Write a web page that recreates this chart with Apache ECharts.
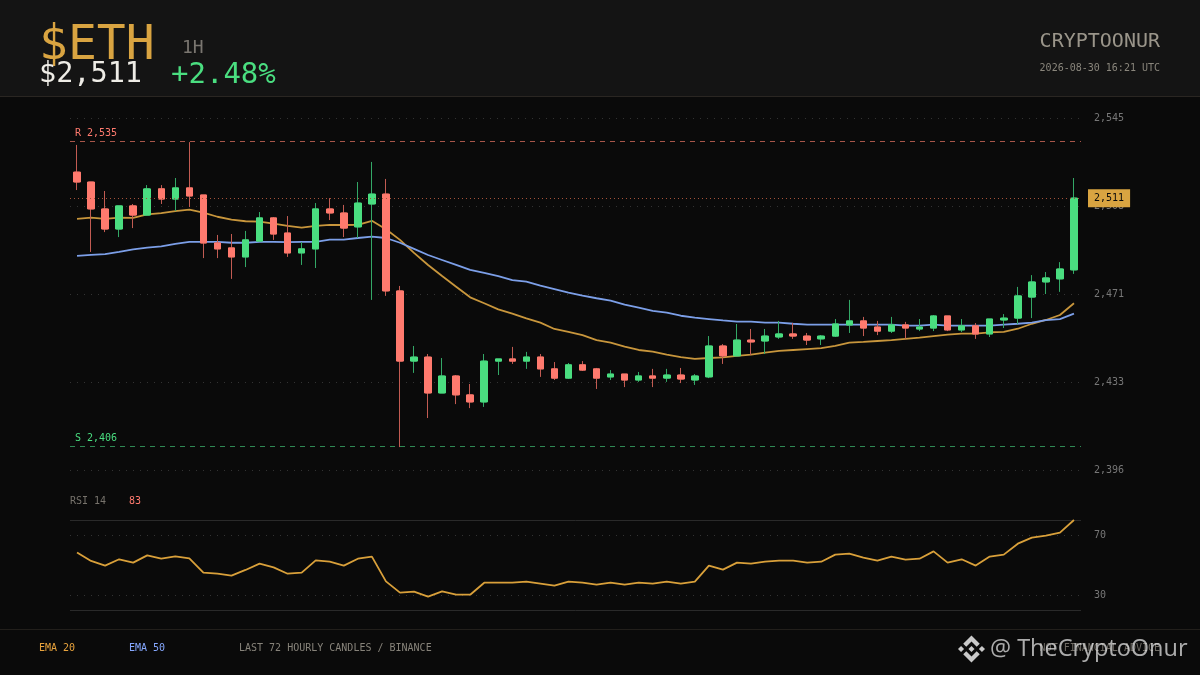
<!DOCTYPE html>
<html><head><meta charset="utf-8">
<style>html,body{margin:0;padding:0;background:#0a0a0a}#c{width:1200px;height:675px}</style>
<script src="https://cdn.jsdelivr.net/npm/echarts@6/dist/echarts.min.js"></script>
</head><body><div id="c"></div>
<script>
const opens=[2522.1,2517.9,2506.5,2498.0,2507.8,2503.9,2515.0,2510.7,2515.4,2512.4,2492.1,2490.0,2486.2,2492.9,2502.7,2496.3,2487.9,2489.6,2506.5,2504.8,2498.9,2508.6,2512.8,2471.8,2442.1,2443.8,2428.6,2435.8,2427.8,2424.8,2442.1,2443.0,2442.1,2443.8,2438.8,2434.9,2440.5,2438.8,2435.4,2436.6,2434.1,2435.8,2434.9,2436.2,2434.1,2435.4,2448.5,2444.3,2451.0,2450.6,2452.3,2453.6,2452.7,2451.5,2452.7,2457.4,2459.1,2456.5,2454.8,2457.4,2455.7,2456.1,2461.2,2455.3,2457.0,2453.6,2459.5,2460.3,2469.2,2475.6,2476.9,2480.7];
const closes=[2517.9,2506.5,2498.0,2507.8,2503.9,2515.0,2510.7,2515.4,2512.0,2492.1,2489.6,2486.2,2493.4,2502.7,2495.9,2487.9,2489.6,2506.5,2504.8,2498.4,2509.0,2512.8,2471.8,2442.1,2443.8,2428.6,2435.8,2427.8,2424.8,2442.1,2443.0,2442.1,2443.8,2438.8,2434.9,2440.5,2438.3,2434.9,2436.6,2434.1,2435.8,2434.9,2436.2,2434.5,2435.8,2448.5,2444.3,2451.0,2450.2,2452.7,2453.6,2452.7,2451.0,2452.7,2457.8,2459.1,2456.1,2454.8,2457.4,2456.1,2456.5,2461.2,2455.3,2457.0,2453.6,2459.9,2460.3,2469.7,2475.6,2477.3,2481.1,2511.1];
const lows=[2514.5,2488.3,2496.7,2494.6,2498.4,2503.9,2508.6,2505.6,2507.3,2485.7,2485.7,2476.9,2481.9,2492.9,2493.4,2486.2,2482.8,2481.5,2501.8,2494.6,2494.2,2468.0,2469.7,2405.7,2437.1,2418.0,2428.6,2423.9,2422.2,2422.7,2436.2,2440.9,2438.8,2435.4,2434.1,2434.5,2437.9,2430.3,2434.1,2431.1,2433.3,2431.1,2433.3,2432.8,2432.0,2434.9,2440.9,2444.3,2444.7,2445.1,2451.5,2451.5,2448.9,2448.9,2452.3,2454.0,2452.7,2453.1,2454.0,2451.5,2454.8,2454.8,2454.8,2454.4,2451.5,2452.3,2456.1,2457.8,2460.3,2470.5,2471.4,2479.0];
const highs=[2533.6,2517.9,2514.1,2507.8,2508.6,2516.6,2516.6,2519.6,2534.8,2512.4,2495.5,2495.9,2497.2,2505.2,2503.1,2503.5,2492.5,2509.0,2511.1,2508.2,2517.9,2526.4,2519.2,2473.9,2448.5,2445.1,2443.4,2436.2,2432.4,2445.1,2443.0,2448.1,2446.0,2445.1,2441.7,2441.3,2442.1,2439.2,2438.3,2436.6,2437.5,2438.8,2438.8,2439.2,2436.6,2452.7,2449.3,2457.8,2455.7,2455.7,2459.1,2458.2,2454.0,2453.1,2459.9,2468.0,2460.8,2459.1,2460.8,2458.7,2459.9,2461.6,2461.2,2459.9,2458.2,2459.9,2462.0,2473.5,2478.5,2479.8,2484.0,2519.6];
const ema20=[2502.3,2502.8,2502.3,2502.8,2502.7,2504.2,2504.7,2505.6,2506.2,2504.9,2503.2,2502.0,2501.3,2501.1,2500.3,2499.3,2498.6,2499.3,2499.8,2499.7,2499.8,2501.5,2497.9,2493.4,2487.9,2482.8,2478.1,2473.6,2469.1,2466.6,2464.0,2462.2,2460.2,2458.4,2455.7,2454.5,2453.1,2451.0,2449.9,2448.2,2446.8,2446.1,2444.8,2443.8,2443.0,2443.4,2443.7,2444.3,2444.8,2445.7,2446.4,2446.8,2447.2,2447.6,2448.5,2449.9,2450.2,2450.6,2451.0,2451.5,2452.0,2452.7,2453.3,2453.7,2453.7,2454.3,2454.5,2455.8,2457.9,2459.5,2461.6,2466.6];
const ema50=[2486.6,2487.1,2487.4,2488.3,2489.4,2490.1,2490.7,2491.7,2492.6,2492.6,2492.6,2492.2,2492.2,2492.6,2492.6,2492.5,2492.6,2492.6,2493.5,2493.5,2494.2,2494.8,2494.2,2492.2,2489.6,2487.0,2484.9,2482.8,2480.7,2479.4,2478.1,2476.4,2475.7,2474.0,2472.6,2471.1,2469.8,2468.7,2467.7,2466.0,2464.7,2463.4,2462.6,2461.3,2460.5,2459.9,2459.3,2458.8,2458.8,2458.4,2458.4,2457.9,2457.5,2457.5,2457.5,2457.5,2457.5,2457.5,2457.5,2457.1,2457.1,2457.5,2457.1,2457.1,2457.1,2457.1,2457.5,2457.9,2458.4,2459.4,2459.9,2462.2];
const rsi=[58.4,52.7,49.6,53.8,51.6,56.4,54.2,55.8,54.4,44.9,44.2,42.9,46.7,50.9,48.4,44.2,44.9,53.1,52.2,49.6,54.2,55.6,39.1,31.6,32.2,28.9,32.4,30.2,30.2,38.2,38.2,38.2,38.9,37.6,36.2,38.9,38.2,36.9,38.2,36.9,38.2,37.6,38.9,37.6,38.9,49.6,46.9,51.6,50.9,52.2,52.9,52.9,51.6,52.2,56.9,57.6,54.9,52.9,55.6,53.6,54.2,59.1,51.6,53.8,49.6,55.6,56.9,64.2,68.2,69.6,71.6,80];
const categories=opens.map((_,i)=>String(i));
const priceTicks=[2545,2507.75,2470.5,2433.25,2396];
const rsiTicks=[70,30];
const resistance=2535,support=2406,lastPrice=2511;

const MONO='"DejaVu Sans Mono",monospace';
const UP='#4ade80',DOWN='#ff7a6e',UPW='#33a866',DOWNW='#c25b52';
const fmt=v=>Math.round(v).toLocaleString('en-US');
const fullCandles=opens.map((o,i)=>[o,closes[i],lows[i],highs[i]]);
const bodyCandles=opens.map((o,i)=>[o,closes[i],Math.min(o,closes[i]),Math.max(o,closes[i])]);
const hDot={type:[1,6],color:'#333',width:1};

function txt(x,y,text,size,fill,align){
  return {type:'text',silent:true,z:50,x:x,y:y,style:{text:text,font:size+'px '+MONO,fill:fill,textAlign:align||'left',textVerticalAlign:'middle'}};
}
const logoFill='rgba(235,235,235,0.85)';
const logoShapes=[
  [[12,0],[19.34,7.34],[16.62,10.06],[12,5.42],[7.35,10.08],[4.63,7.36]],
  [[16.62,13.92],[19.34,16.64],[12,24],[4.63,16.63],[7.35,13.92],[12,18.58]],
  [[2.72,9.28],[5.41,12],[2.72,14.69],[0,12]],
  [[21.26,9.28],[24,12],[21.28,14.72],[18.57,12]],
  [[12,9.28],[14.7,12],[12,14.7],[9.27,12]]
];
const chart=echarts.init(document.getElementById('c'),null,{renderer:'canvas',width:1200,height:675});
chart.setOption({
  animation:false,
  backgroundColor:'#0a0a0a',
  grid:[{left:70,right:119,top:118,height:352},{left:70,right:119,top:520,height:90}],
  xAxis:[
    {type:'category',gridIndex:0,data:categories,show:false},
    {type:'category',gridIndex:1,data:categories,show:false}
  ],
  yAxis:[
    {type:'value',gridIndex:0,position:'right',min:2396,max:2545,scale:true,
      axisLine:{show:false},axisTick:{show:false},splitLine:{show:false},
      axisLabel:{customValues:priceTicks,formatter:fmt,color:'#777',fontFamily:MONO,fontSize:10,margin:13}},
    {type:'value',gridIndex:1,position:'right',min:20,max:80,
      axisLine:{show:false},axisTick:{show:false},splitLine:{show:false},
      axisLabel:{customValues:rsiTicks,color:'#777',fontFamily:MONO,fontSize:10,margin:13}}
  ],
  series:[
    {type:'candlestick',name:'wicks',xAxisIndex:0,yAxisIndex:0,data:fullCandles,barWidth:6,z:3,silent:true,
      itemStyle:{color:UPW,color0:DOWNW,borderColor:UPW,borderColor0:DOWNW,borderWidth:1},
      markLine:{silent:true,symbol:'none',z:1,animation:false,data:priceTicks.map(v=>({yAxis:v,lineStyle:hDot,label:{show:false}}))}},
    {type:'line',name:'EMA 20',xAxisIndex:0,yAxisIndex:0,data:ema20,showSymbol:false,z:2,silent:true,lineStyle:{color:'#c8963c',width:1.8}},
    {type:'line',name:'EMA 50',xAxisIndex:0,yAxisIndex:0,data:ema50,showSymbol:false,z:2,silent:true,lineStyle:{color:'#7c9fe8',width:1.8}},
    {type:'candlestick',name:'bodies',xAxisIndex:0,yAxisIndex:0,data:bodyCandles,barWidth:7,z:4,silent:true,
      itemStyle:{color:UP,color0:DOWN,borderColor:UP,borderColor0:DOWN,borderWidth:1},
      markLine:{silent:true,symbol:'none',z:5,animation:false,data:[
        {yAxis:resistance,lineStyle:{type:[5,5],color:'#a8564a',width:1},
         label:{position:'insideStartTop',formatter:'R '+fmt(resistance),color:DOWN,fontFamily:MONO,fontSize:10,distance:[5,3]}},
        {yAxis:support,lineStyle:{type:[5,5],color:'#2f8a55',width:1},
         label:{position:'insideStartTop',formatter:'S '+fmt(support),color:UP,fontFamily:MONO,fontSize:10,distance:[5,3]}},
        {yAxis:lastPrice,lineStyle:{type:[1,3],color:'#a5523a',width:1},
         label:{position:'end',formatter:fmt(lastPrice),color:'#0a0a0a',backgroundColor:'#d9a441',fontFamily:MONO,fontSize:10,padding:[4,6],distance:7}}
      ]}},
    {type:'line',name:'RSI 14',xAxisIndex:1,yAxisIndex:1,data:rsi,showSymbol:false,z:3,silent:true,lineStyle:{color:'#d9a03a',width:1.8},
      markLine:{silent:true,symbol:'none',z:1,animation:false,data:[
        {yAxis:80,lineStyle:{type:'solid',color:'#2a2a2a',width:1},label:{show:false}},
        {yAxis:20,lineStyle:{type:'solid',color:'#2a2a2a',width:1},label:{show:false}},
        {yAxis:70,lineStyle:hDot,label:{show:false}},
        {yAxis:30,lineStyle:hDot,label:{show:false}}
      ]}}
  ],
  graphic:[
    {type:'rect',silent:true,z:-10,shape:{x:0,y:0,width:1200,height:96},style:{fill:'#141414'}},
    {type:'rect',silent:true,z:-9,shape:{x:0,y:96,width:1200,height:1},style:{fill:'#2a2622'}},
    {type:'rect',silent:true,z:-9,shape:{x:0,y:629,width:1200,height:1},style:{fill:'#221f1b'}},
    txt(39,47,'$ETH',48,'#d9a441'),
    txt(182,48,'1H',18,'#7a7670'),
    txt(39,75,'$2,511',28.5,'#eeece6'),
    txt(171,75,'+2.48%',29,UP),
    txt(1160,42,'CRYPTOONUR',20,'#9a958a','right'),
    txt(1160,68,'2026-08-30 16:21 UTC',10,'#8a867c','right'),
    txt(70,501,'RSI 14',10,'#77736c'),
    txt(129,501,'83',10,DOWN),
    txt(39,648,'EMA 20',10,'#e8a33d'),
    txt(129,648,'EMA 50',10,'#86a8ff'),
    txt(239,648,'LAST 72 HOURLY CANDLES / BINANCE',10,'#87837a'),
    txt(1160,648,'NOT FINANCIAL ADVICE',10,'#6f6b64','right'),
    {type:'group',silent:true,z:60,x:958,y:635.5,scaleX:1.125,scaleY:1.125,
      children:logoShapes.map(p=>({type:'polygon',silent:true,z:60,shape:{points:p},style:{fill:logoFill}}))},
    {type:'text',silent:true,z:60,x:990,y:649,style:{text:'@ TheCryptoOnur',font:'23.5px "Open Sans",sans-serif',fill:'rgba(235,235,235,0.72)',textVerticalAlign:'middle'}}
  ]
});
</script></body></html>
